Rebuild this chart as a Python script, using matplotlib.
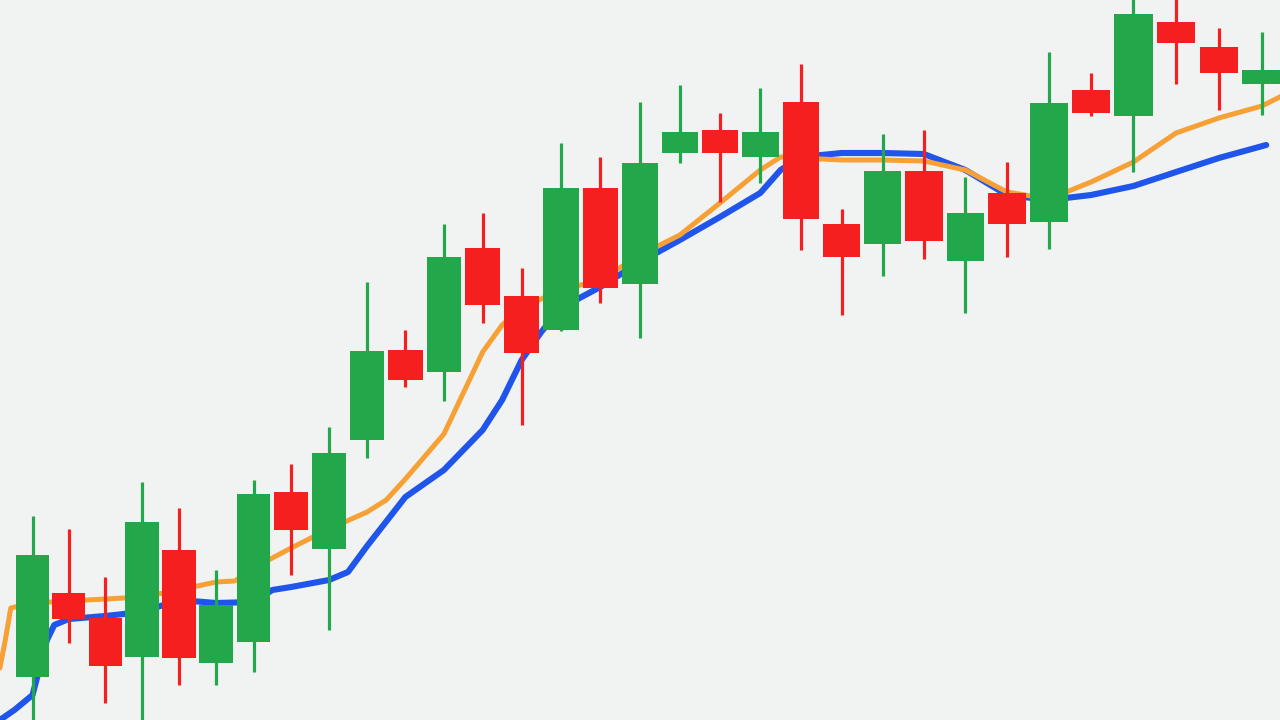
import numpy as np
import matplotlib
matplotlib.use("Agg")
import matplotlib.pyplot as plt

# ---- data (prices, arbitrary units) ----
opens  = [54.3, 62.7, 60.2, 56.3, 67.0, 55.7, 57.8, 72.8, 67.1, 78.0, 87.0, 84.8, 97.2, 92.4, 89.0, 103.2,
          93.6, 106.7, 109.0, 106.3, 111.8, 99.6, 97.6, 104.9, 95.9, 102.7, 99.8, 113.0, 110.4, 119.8, 117.3, 113.6]
highs  = [70.4, 69.1, 64.3, 73.8, 71.2, 65.0, 74.0, 75.6, 79.3, 93.8, 89.0, 99.6, 100.7, 95.2, 107.7, 106.3,
          111.8, 113.5, 110.7, 113.2, 115.6, 101.1, 108.6, 109.0, 104.3, 105.8, 116.8, 114.7, 123.5, 123.0, 119.2, 118.8]
lows   = [48.5, 57.7, 51.7, 48.0, 53.5, 53.5, 54.8, 64.5, 59.0, 76.2, 83.3, 81.9, 89.7, 79.5, 88.9, 91.7,
          88.2, 105.7, 101.8, 103.7, 97.0, 90.5, 94.4, 96.1, 90.7, 96.3, 97.1, 110.4, 104.8, 113.6, 111.0, 110.5]
closes = [66.5, 60.1, 55.4, 69.8, 56.2, 61.5, 72.6, 69.0, 76.7, 86.9, 84.0, 96.3, 91.5, 86.7, 103.2, 93.2,
          105.7, 108.8, 106.7, 108.8, 100.1, 96.3, 104.9, 97.9, 100.7, 99.6, 111.7, 110.7, 120.6, 117.7, 114.7, 115.0]

# moving averages (candle index, value)
slow_ma_x = [-0.9, -0.5, 0, 0.4, 0.6, 1, 2, 3, 4, 5, 6, 6.5, 7, 8, 8.5, 9, 10, 11, 12, 12.5, 13, 13.5, 14,
             15, 16, 17, 18, 19, 19.5, 20, 21, 22, 23, 24, 25, 26, 27, 28, 29, 30, 31.1]
slow_ma_y = [50.0, 51.0, 52.5, 58.0, 59.5, 60.1, 60.4, 60.8, 62.0, 61.7, 61.8, 63.0, 63.3, 64.0, 64.8, 67.4,
             72.3, 75.0, 79.0, 82.0, 86.0, 88.8, 91.2, 93.3, 95.8, 98.0, 100.3, 102.7, 105.0, 106.3, 106.7,
             106.7, 106.6, 105.0, 102.5, 102.0, 102.5, 103.4, 104.8, 106.2, 107.5]
fast_ma_x = [-0.9, -0.75, -0.6, 0, 1, 2, 3, 4, 5, 5.5, 6, 7, 8, 9, 9.5, 10, 11, 12, 12.5, 13, 14, 15, 16,
             17, 18, 19, 19.5, 20, 21, 22, 23, 24, 25, 26, 27, 28, 29, 30, 31, 31.6]
fast_ma_y = [55.2, 58.0, 61.2, 61.7, 61.9, 62.1, 62.3, 63.0, 63.8, 63.9, 65.2, 67.2, 69.1, 70.8, 72.0, 74.1,
             78.6, 86.8, 89.5, 91.2, 93.0, 94.0, 96.5, 98.5, 101.7, 105.0, 106.3, 106.2, 106.0, 106.0, 105.9,
             105.0, 102.8, 102.1, 103.8, 105.8, 108.7, 110.2, 111.4, 112.7]

# ---- style ----
BG = "#f1f3f3"
GREEN = "#22a84a"
RED = "#f51f1f"
BLUE = "#1f55ea"
ORANGE = "#f7a035"

# mild perspective-like horizontal scale
A = 0.00312
def fwd(x):
    x = np.asarray(x, dtype=float)
    return x + A * x * np.abs(x)
def inv(y):
    y = np.asarray(y, dtype=float)
    return np.sign(y) * (-1 + np.sqrt(1 + 4 * A * np.abs(y))) / (2 * A)

fig = plt.figure(figsize=(12.8, 7.2), dpi=100, facecolor=BG)
ax = fig.add_axes([0, 0, 1, 1])
ax.set_facecolor(BG)
ax.set_xscale("function", functions=(fwd, inv))

idx = np.arange(len(opens))
o = np.array(opens); c = np.array(closes); h = np.array(highs); l = np.array(lows)
up = c >= o
colors = np.where(up, GREEN, RED)

ax.plot(slow_ma_x, slow_ma_y, color=BLUE, lw=4.4, solid_capstyle="round", solid_joinstyle="round", zorder=1)
ax.plot(fast_ma_x, fast_ma_y, color=ORANGE, lw=3.6, solid_capstyle="round", solid_joinstyle="round", zorder=1.1)

ax.vlines(idx, l, h, colors=colors, lw=2.3, zorder=2)
ax.bar(idx, np.abs(c - o), bottom=np.minimum(o, c), width=0.9, color=colors, zorder=3)

ax.set_xlim(float(inv(-0.8988)), float(inv(34.499)))
ax.set_ylim(50, 122)
ax.axis("off")

fig.savefig("out.png", dpi=100, facecolor=BG)
